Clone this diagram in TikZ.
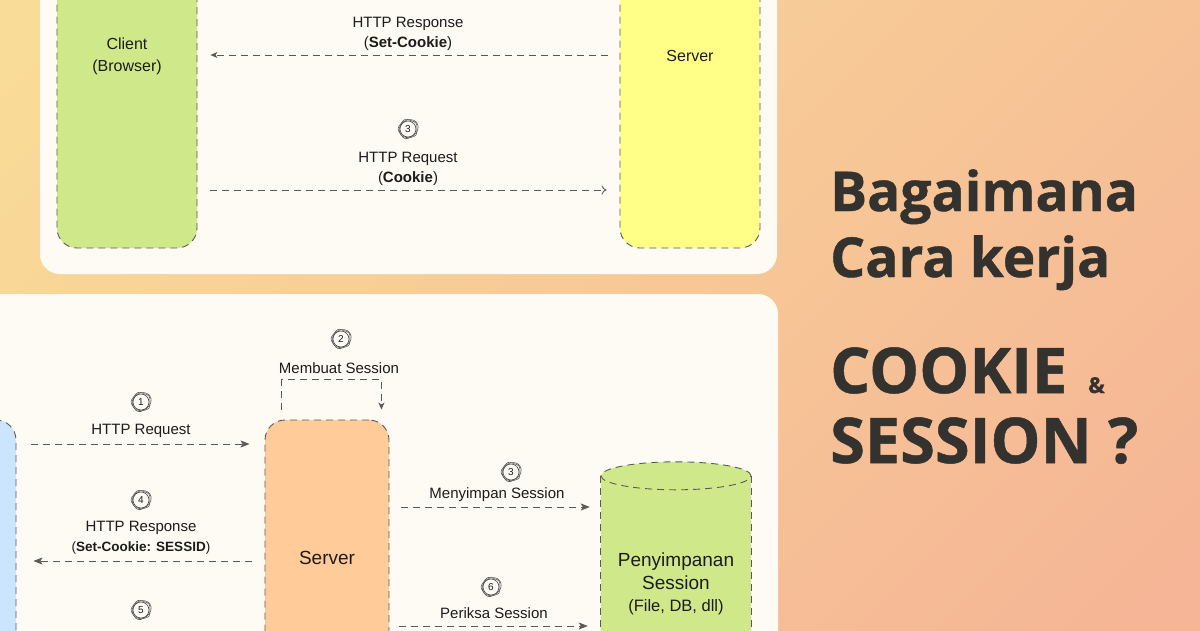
\documentclass[tikz,border=0pt]{standalone}
\usepackage{fontspec}
\setmainfont{Liberation Sans}
\newfontfamily\titlefont[BoldFeatures={FakeBold=0.8}]{Open Sans}
\usetikzlibrary{arrows.meta,positioning,shapes.geometric}
\definecolor{bgyellow}{HTML}{F9DC97}
\definecolor{bgpeach}{HTML}{F9D796}
\definecolor{bgsalmon}{HTML}{F5B596}
\definecolor{panel}{HTML}{FEFAF4}
\definecolor{clientgreen}{HTML}{CFE98A}
\definecolor{serveryellow}{HTML}{FFFF88}
\definecolor{serverorange}{HTML}{FFCC99}
\definecolor{clientblue}{HTML}{CCE5FF}
\definecolor{dashgray}{HTML}{5A5A5A}
\definecolor{ink}{HTML}{1C1C1C}
\definecolor{titleink}{HTML}{33322E}
\tikzset{
    box/.style={draw=dashgray, dash pattern=on 7pt off 5pt, line width=0.9pt, rounded corners=20pt, inner sep=0pt},
    flow/.style={draw=dashgray, dash pattern=on 7pt off 5pt, line width=0.9pt},
    arr/.style={-{Stealth[length=9pt,width=7pt,inset=2pt]}},
    txt/.style={text=ink, font=\fontsize{15}{20}\selectfont, align=center, inner sep=0pt},
    badge/.style={circle, draw=ink!80, line width=0.6pt, minimum size=16pt, inner sep=0pt, font=\fontsize{10}{10}\selectfont, text=ink},
    sketch/.style={draw=ink!75, line width=0.55pt},
    title/.style={text=titleink, font=\titlefont\bfseries\fontsize{55}{60}\selectfont, anchor=base west, inner sep=0pt},
}
% hand drawn step number
\newcommand{\numbadge}[3]{%
    \node[badge] (#1) at (#2) {#3};
    \node[badge, sketch, regular polygon, regular polygon sides=5, minimum size=22pt, rounded corners=3pt, rotate=17] (#1x) at (#2) {};
    \draw[sketch, rotate around={35:(#1)}] ([xshift=0.8pt]#1.center) ellipse[x radius=10pt, y radius=8.5pt];
}

\begin{document}
\begin{tikzpicture}[x=1pt,y=-1pt,>=stealth]
    \useasboundingbox (0,0) rectangle (1200,630);
    \clip (0,0) rectangle (1200,630);
    \shade[top color=bgyellow, middle color=bgpeach, bottom color=bgsalmon, shading angle=45] (0,-285) rectangle (1200,915);
    \fill[panel, rounded corners=20pt] (40,-40) rectangle (777,274);
    \fill[panel, rounded corners=20pt] (-40,294) rectangle (778,680);

    % cookie
    \node[box, fill=clientgreen, minimum width=140pt, minimum height=300pt] (c1) at (127,98) {};
    \node[box, fill=serveryellow, minimum width=140pt, minimum height=300pt] (s1) at (690,98) {};
    \node[txt, font=\fontsize{16}{22}\selectfont] (c1t) at (127,56) {Client\\(Browser)};
    \node[txt, font=\fontsize{16}{22}\selectfont] (s1t) at (690,56) {Server};
    \coordinate (r2) at (408,55);
    \coordinate (r3) at (408,190);
    \numbadge{n2}{408,-10}{2}
    \node[txt] (l2) at (408,34) {HTTP Response\\(\textbf{Set-Cookie})};
    \numbadge{n3}{408,129}{3}
    \node[txt] (l3) at (408,169) {HTTP Request\\(\textbf{Cookie})};
    \draw[flow, -{Stealth[length=7pt,width=6pt,inset=2pt]}, shorten <=12pt, shorten >=13pt] (s1.west |- r2) -- (c1.east |- r2);
    \draw[flow, -{To[length=5pt,width=9pt]}, shorten <=13pt, shorten >=13pt] (c1.east |- r3) -- (s1.west |- r3);

    % session
    \node[box, fill=clientblue, minimum width=146pt, minimum height=300pt] (c2) at (-57,570) {};
    \node[box, fill=serverorange, minimum width=124pt, minimum height=300pt] (s2) at (327,570) {};
    \node[txt, font=\fontsize{19}{22}\selectfont] (s2t) at (327,558) {Server};
    \node[minimum width=150pt, minimum height=260pt, inner sep=0pt, fill=clientgreen] (db) at (676,606) {};
    \fill[clientgreen] (db.north) ellipse[x radius=75pt, y radius=14pt];
    \draw[flow] (db.north west) -- (db.south west) (db.north east) -- (db.south east);
    \draw[flow] (db.north) ellipse[x radius=75pt, y radius=14pt];
    \node[txt, font=\fontsize{19}{22.5}\selectfont] (dbt) at (676,584) {Penyimpanan\\Session\\{\fontsize{16.5}{22.5}\selectfont(File, DB, dll)}};

    \coordinate (q1) at (141,444);
    \coordinate (q4) at (141,561);
    \coordinate (q3) at (497,507);
    \coordinate (q6) at (494,626);

    \numbadge{m1}{141,402}{1}
    \node[txt] (k1) at (141,431) {HTTP Request};
    \numbadge{m2}{341,339}{2}
    \node[txt] (k2) at (339,368) {Membuat Session};
    \numbadge{m4}{141,500}{4}
    \node[txt] (k4) at (141,538) {HTTP Response\\{\fontsize{13.5}{20}\selectfont(\textbf{Set-Cookie: SESSID})}};
    \numbadge{m5}{141,610}{5}
    \numbadge{m3}{511,472}{3}
    \node[txt] (k3) at (497,495) {Menyimpan Session};
    \numbadge{m6}{491,587}{6}
    \node[txt] (k6) at (494,613) {Periksa Session};

    \draw[flow, arr, shorten <=15pt, shorten >=15pt] (c2.east |- q1) -- (s2.west |- q1);
    \draw[flow, arr, shorten <=13pt, shorten >=17pt] (s2.west |- q4) -- (c2.east |- q4);
    \draw[flow, arr, shorten <=12pt, shorten >=11pt] (s2.east |- q3) -- (db.west |- q3);
    \draw[flow, arr, shorten <=10pt, shorten >=13pt] (s2.east |- q6) -- (db.west |- q6);
    \draw[flow, -{Stealth[length=7pt,width=6pt,inset=2pt]}] ([xshift=17pt,yshift=10pt]s2.north west) -- ++(0,30pt) -| ([xshift=-8pt,yshift=10pt]s2.north east);

    % title
    \node[title] (t1) at (830,211) {Bagaimana};
    \node[title] (t2) at (830,277) {Cara kerja};
    \node[title, font=\titlefont\bfseries\fontsize{63}{64}\selectfont] (t3) at (830,393) {COOKIE};
    \node[title, font=\titlefont\bfseries\fontsize{22}{22}\selectfont] (t4) at (1088,393) {\&};
    \node[title, font=\titlefont\bfseries\fontsize{63}{64}\selectfont] (t5) at (830,463) {SESSION ?};
\end{tikzpicture}
\end{document}
